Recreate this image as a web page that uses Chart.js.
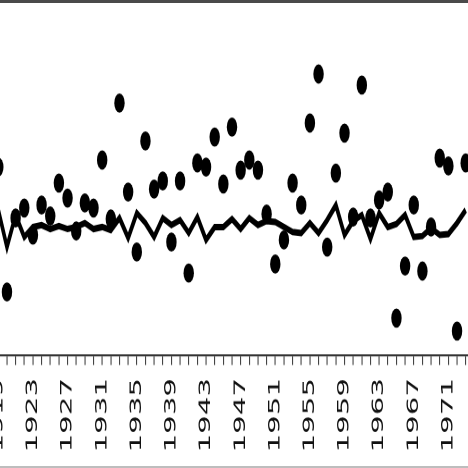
<!DOCTYPE html>
<html>
<head>
<meta charset="utf-8">
<script src="https://cdn.jsdelivr.net/npm/chart.js@4"></script>
<style>
  html, body { margin: 0; padding: 0; background: #fff; overflow: hidden; }
  body { width: 468px; height: 468px; position: relative; }
  #wrap { position: absolute; left: -19px; top: 0; transform: scaleY(1.85); transform-origin: 0 0; }
  #topbar { position: absolute; left: 0; top: 0; width: 468px; height: 3px; background: #4a4a4a; }
  #botbar { position: absolute; left: 0; top: 466px; width: 468px; height: 2px; background: #bdbdbd; }
</style>
</head>
<body>
<div id="wrap"><canvas id="myChart" width="502" height="253" style="width:502px;height:253px"></canvas></div>
<div id="topbar"></div>
<div id="botbar"></div>
<script>
// years shown (the left part of the original figure is cut off)
var years = [1919, 1920, 1921, 1922, 1923, 1924, 1925, 1926, 1927, 1928,
             1929, 1930, 1931, 1932, 1933, 1934, 1935, 1936, 1937, 1938,
             1939, 1940, 1941, 1942, 1943, 1944, 1945, 1946, 1947, 1948,
             1949, 1950, 1951, 1952, 1953, 1954, 1955, 1956, 1957, 1958,
             1959, 1960, 1961, 1962, 1963, 1964, 1965, 1966, 1967, 1968,
             1969, 1970, 1971, 1972, 1973];

// observed values (dots)
var observed = [18.8, 6.3, 13.7, 14.7, 12.0, 15.0, 13.9, 17.2, 15.7, 12.4,
                15.2, 14.7, 19.5, 13.6, 25.2, 16.3, 10.3, 21.4, 16.6, 17.4,
                11.3, 17.4, 8.2, 19.2, 18.8, 21.8, 17.1, 22.8, 18.5, 19.5,
                18.5, 14.1, 9.1, 11.5, 17.2, 15.0, 23.2, 28.1, 10.8, 18.2,
                22.2, 13.8, 27.0, 13.7, 15.5, 16.3, 3.7, 8.9, 15.0, 8.4,
                12.8, 19.7, 18.9, 2.4, 19.2];

// simulated values (line)
var simulated = [14.5, 10.8, 14.0, 11.8, 12.8, 13.0, 12.6, 12.9, 12.6, 12.8,
                 13.2, 12.6, 12.8, 12.5, 13.7, 11.7, 14.2, 13.2, 11.8, 13.7,
                 13.0, 13.5, 12.2, 13.8, 11.5, 12.8, 12.8, 13.6, 12.6, 13.7,
                 13.0, 13.4, 13.3, 12.8, 12.3, 12.2, 13.2, 12.2, 13.5, 15.0,
                 12.0, 13.4, 14.0, 11.6, 14.2, 12.8, 13.1, 14.0, 11.8, 11.9,
                 12.7, 12.0, 12.1, 13.2, 14.5];

// years that carry a label on the x axis
var tickYears = [1919, 1923, 1927, 1931, 1935, 1939, 1943, 1947, 1951, 1955,
                 1959, 1963, 1967, 1971];

var ctx = document.getElementById('myChart').getContext('2d');

var obsPoints = years.map(function (y, i) { return { x: y, y: observed[i] }; });
var simPoints = years.map(function (y, i) { return { x: y, y: simulated[i] }; });

var myChart = new Chart(ctx, {
    type: 'scatter',
    data: {
        datasets: [{
            label: 'Simulated',
            type: 'line',
            data: simPoints,
            borderColor: '#000',
            borderWidth: 3.5,
            pointRadius: 0,
            tension: 0,
            fill: false
        }, {
            label: 'Observed',
            data: obsPoints,
            backgroundColor: '#000',
            borderColor: '#000',
            borderWidth: 0,
            pointRadius: 5.2
        }]
    },
    options: {
        responsive: false,
        animation: false,
        devicePixelRatio: 2,
        layout: { autoPadding: false, padding: { left: 0, right: 0, top: 0, bottom: 1.5 } },
        plugins: {
            legend: { display: false },
            tooltip: { enabled: false }
        },
        scales: {
            x: {
                type: 'linear',
                min: 1917,
                max: 1975,
                // the figure is cropped, so no room is kept for edge labels
                afterFit: function (scale) {
                    scale.paddingLeft = 0;
                    scale.paddingRight = 0;
                },
                grid: {
                    drawOnChartArea: false,
                    drawTicks: true,
                    tickLength: 5.4,
                    color: '#444',
                    lineWidth: 1.1
                },
                border: { display: true, color: '#333', width: 1.1 },
                ticks: {
                    stepSize: 1,
                    autoSkip: false,
                    maxRotation: 90,
                    minRotation: 90,
                    padding: 7,
                    color: '#111',
                    font: { family: 'DejaVu Sans', size: 15.8 },
                    callback: function (value) {
                        return tickYears.indexOf(value) >= 0 ? String(value) : '';
                    }
                }
            },
            y: {
                display: false,
                min: 0,
                max: 35.5
            }
        }
    }
});
</script>
</body>
</html>
